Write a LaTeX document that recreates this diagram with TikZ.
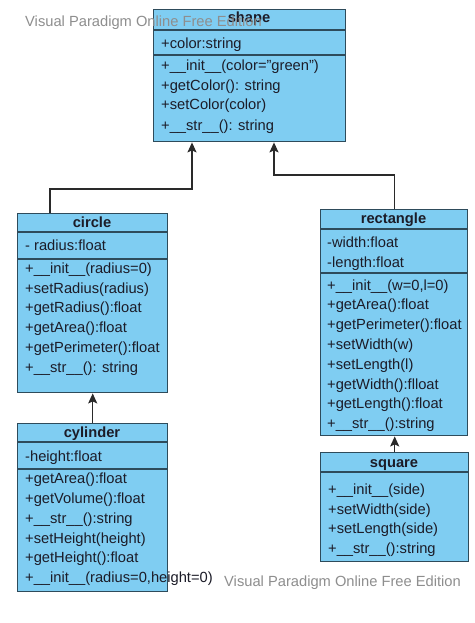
\documentclass[tikz,border=0pt]{standalone}
\usepackage{fontspec}
\setmainfont{Liberation Sans}
\usetikzlibrary{arrows.meta,calc}
\definecolor{umlfill}{HTML}{7FCDF2}
\definecolor{umlline}{HTML}{2E4B5B}
\definecolor{umltext}{HTML}{1C1C28}
\definecolor{wmgray}{HTML}{8E8E8E}
\definecolor{conn}{HTML}{2A2A2A}
\begin{document}
\begin{tikzpicture}[x=1pt,y=-1pt,
  classbox/.style={draw=umlline, fill=umlfill, line width=1.4pt, anchor=north west, inner sep=0pt},
  sepline/.style={draw=umlline, line width=1.4pt},
  member/.style={anchor=base west, inner sep=0pt, text=umltext, font=\fontsize{14.7}{16}\selectfont},
  classtitle/.style={anchor=base, inner sep=0pt, text=umltext, font=\fontsize{14.7}{16}\selectfont\bfseries},
  inherit/.style={draw=conn, line width=1.4pt, -{Stealth[length=10pt,width=9pt,inset=2pt]}},
  watermark/.style={anchor=base west, inner sep=0pt, text=wmgray, font=\fontsize{14.7}{16}\selectfont}]
\useasboundingbox (0,0) rectangle (474,623);
\fill[white] (0,0) rectangle (474,623);

% ---------- shape ----------
\node[classbox, minimum width=192pt, minimum height=132pt] (shapecls) at (153,9) {};
\draw[sepline] (153,30) -- (345,30);
\draw[sepline] (153,55) -- (345,55);
\node[classtitle] (s-t) at (249,23) {shape};
\node[member] (s-a1) at (161,49) {+color:string};
\node[member] (s-m1) at (161,71) {+\_\_init\_\_(color="green")};
\node[member] (s-m2) at (161,91) {+getColor(): string};
\node[member] (s-m3) at (161,110) {+setColor(color)};
\node[member] (s-m4) at (161,130) {+\_\_str\_\_(): string};

% ---------- circle ----------
\node[classbox, minimum width=150pt, minimum height=179pt] (circlecls) at (17,213) {};
\draw[sepline] (17,232) -- (167,232);
\draw[sepline] (17,259) -- (167,259);
\node[classtitle] (c-t) at (92,227) {circle};
\node[member] (c-a1) at (25,250) {- radius:float};
\node[member] (c-m1) at (25,273) {+\_\_init\_\_(radius=0)};
\node[member] (c-m2) at (25,293) {+setRadius(radius)};
\node[member] (c-m3) at (25,312) {+getRadius():float};
\node[member] (c-m4) at (25,332) {+getArea():float};
\node[member] (c-m5) at (25,352) {+getPerimeter():float};
\node[member] (c-m6) at (25,372) {+\_\_str\_\_(): string};

% ---------- cylinder ----------
\node[classbox, minimum width=150pt, minimum height=168pt] (cylindercls) at (17,423) {};
\draw[sepline] (17,442) -- (167,442);
\draw[sepline] (17,469) -- (167,469);
\node[classtitle] (y-t) at (92,437) {cylinder};
\node[member] (y-a1) at (25,461) {-height:float};
\node[member] (y-m1) at (25,483) {+getArea():float};
\node[member] (y-m2) at (25,503) {+getVolume():float};
\node[member] (y-m3) at (25,523) {+\_\_str\_\_():string};
\node[member] (y-m4) at (25,543) {+setHeight(height)};
\node[member] (y-m5) at (25,562) {+getHeight():float};
\node[member] (y-m6) at (25,582) {+\_\_init\_\_(radius=0,height=0)};

% ---------- rectangle ----------
\node[classbox, minimum width=147pt, minimum height=226pt] (rectanglecls) at (320,209) {};
\draw[sepline] (320,229) -- (467,229);
\draw[sepline] (320,273) -- (467,273);
\node[classtitle] (r-t) at (393.5,223) {rectangle};
\node[member] (r-a1) at (327,247) {-width:float};
\node[member] (r-a2) at (327,267) {-length:float};
\node[member] (r-m1) at (327,290) {+\_\_init\_\_(w=0,l=0)};
\node[member] (r-m2) at (327,309) {+getArea():float};
\node[member] (r-m3) at (327,329) {+getPerimeter():float};
\node[member] (r-m4) at (327,349) {+setWidth(w)};
\node[member] (r-m5) at (327,369) {+setLength(l)};
\node[member] (r-m6) at (327,389) {+getWidth():flloat};
\node[member] (r-m7) at (327,408) {+getLength():float};
\node[member] (r-m8) at (327,428) {+\_\_str\_\_():string};

% ---------- square ----------
\node[classbox, minimum width=148pt, minimum height=109pt] (squarecls) at (320,452) {};
\draw[sepline] (320,472) -- (468,472);
\node[classtitle] (q-t) at (394,467) {square};
\node[member] (q-m1) at (328,494) {+\_\_init\_\_(side)};
\node[member] (q-m2) at (328,514) {+setWidth(side)};
\node[member] (q-m3) at (328,533) {+setLength(side)};
\node[member] (q-m4) at (328,553) {+\_\_str\_\_():string};

% ---------- inheritance connectors ----------
\coordinate (cup) at ($(circlecls.north west)+(33,0)$);
\coordinate (sleft) at ($(shapecls.south west)+(39,0)$);
\coordinate (sright) at ($(shapecls.south west)+(121,0)$);
\draw[inherit] (cup) -- ++(0,-24) -| (sleft);
\draw[inherit] (rectanglecls.north) -- ++(0,-34) -| (sright);
\draw[inherit] (cylindercls.north) -- (circlecls.south);
\draw[inherit] (squarecls.north) -- (squarecls.north |- rectanglecls.south);

% ---------- watermarks ----------
\node[watermark] (wm1) at (25,27) {Visual Paradigm Online Free Edition};
\node[watermark] (wm2) at (224,586) {Visual Paradigm Online Free Edition};
\end{tikzpicture}
\end{document}
